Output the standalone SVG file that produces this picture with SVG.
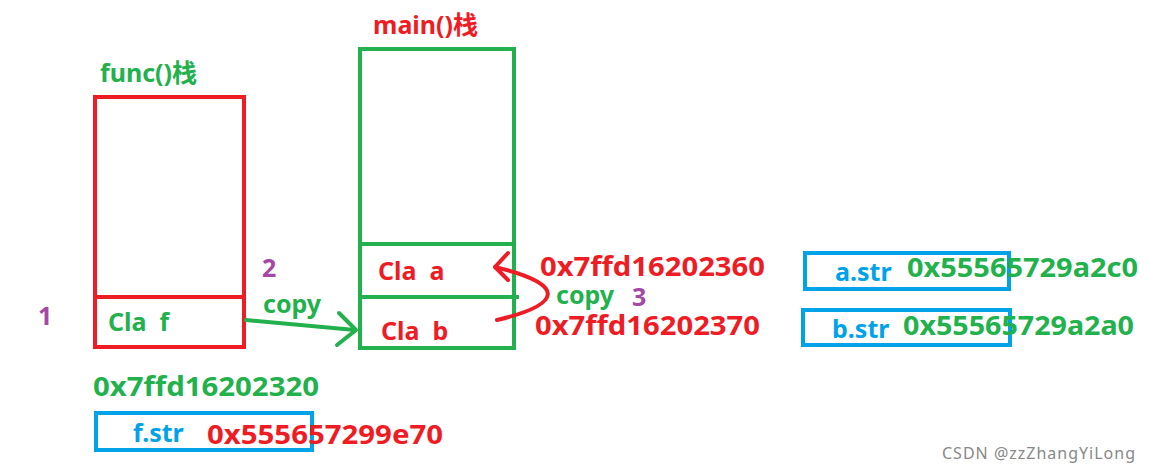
<svg xmlns="http://www.w3.org/2000/svg" width="1150" height="472" viewBox="0 0 1150 472">
<style>
text{font-family:"Noto Sans","Noto Sans CJK SC",sans-serif;font-weight:bold;white-space:pre}
.r{fill:#ee1c24}.g{fill:#22b14c}.p{fill:#a349a4}.b{fill:#00a2e8}
.box{fill:none;stroke-width:4}
</style>
<rect width="1150" height="472" fill="#fff"/>
<g id="func">
<rect class="box" x="95" y="97" width="149" height="250" stroke="#ee1c24"/>
<line x1="95" y1="297" x2="244" y2="297" stroke="#ee1c24" stroke-width="4"/>
<text class="g" x="100" y="82" font-size="25">func()栈</text>
<text class="g" x="108" y="331" font-size="25" xml:space="preserve">Cla  f</text>
<text class="g" x="93" y="396" font-size="26" textLength="226" lengthAdjust="spacingAndGlyphs">0x7ffd16202320</text>
</g>
<g id="main">
<rect class="box" x="360" y="49" width="154" height="299" stroke="#22b14c"/>
<line x1="360" y1="244" x2="514" y2="244" stroke="#22b14c" stroke-width="4"/>
<line x1="360" y1="297" x2="519" y2="297" stroke="#22b14c" stroke-width="4"/>
<text class="r" x="373" y="34" font-size="25">main()栈</text>
<text class="r" x="378" y="280" font-size="25" xml:space="preserve">Cla  a</text>
<text class="r" x="381" y="340" font-size="25" xml:space="preserve">Cla  b</text>
<text class="r" x="540" y="276" font-size="26" textLength="225" lengthAdjust="spacingAndGlyphs">0x7ffd16202360</text>
<text class="r" x="535" y="335" font-size="26" textLength="225" lengthAdjust="spacingAndGlyphs">0x7ffd16202370</text>
</g>
<g id="astr">
<rect class="box" x="805" y="253" width="204" height="36" stroke="#00a2e8" stroke-width="3"/>
<text class="b" x="835" y="281" font-size="25">a.str</text>
<text class="g" x="907" y="277" font-size="26" textLength="231" lengthAdjust="spacingAndGlyphs">0x55565729a2c0</text>
</g>
<g id="bstr">
<rect class="box" x="803" y="310" width="207" height="35" stroke="#00a2e8" stroke-width="3"/>
<text class="b" x="832" y="338" font-size="25">b.str</text>
<text class="g" x="903" y="335" font-size="26" textLength="231" lengthAdjust="spacingAndGlyphs">0x55565729a2a0</text>
</g>
<g id="fstr">
<rect class="box" x="96" y="413" width="216" height="37" stroke="#00a2e8" stroke-width="3"/>
<text class="b" x="133" y="442" font-size="25">f.str</text>
<text class="r" x="207" y="444" font-size="26" textLength="236" lengthAdjust="spacingAndGlyphs">0x555657299e70</text>
</g>
<g id="labels">
<text class="p" x="38" y="325" font-size="25">1</text>
<text class="p" x="262" y="277" font-size="25">2</text>
<text class="g" x="263" y="313" font-size="25">copy</text>
<text class="g" x="556" y="304" font-size="25">copy</text>
<text class="p" x="632" y="306" font-size="25">3</text>
<text x="942" y="459" font-size="16" fill="#888" style="font-weight:normal" textLength="193">CSDN @zzZhangYiLong</text>
</g>
<g id="connectors" fill="none" stroke-width="4" stroke-linecap="round" stroke-linejoin="round">
<path d="M246 320 L355 330" stroke="#22b14c"/>
<path d="M339 313 L356 330 L337 345" stroke="#22b14c"/>
<path d="M497 320 C560 305 570 285 495 267" stroke="#ee1c24"/>
<path d="M508 253 L495 267 L508 280" stroke="#ee1c24"/>
</g>
</svg>
